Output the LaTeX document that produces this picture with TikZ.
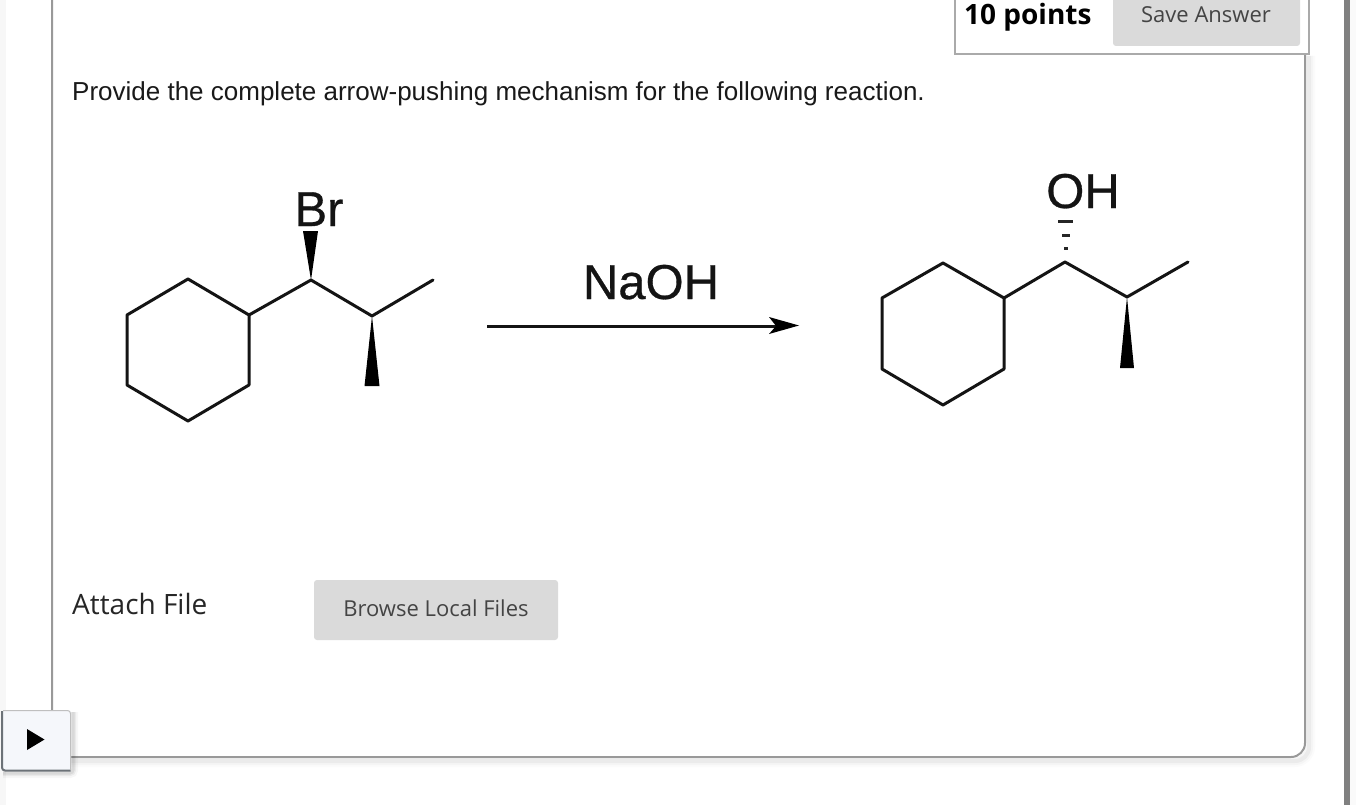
\documentclass[tikz,border=0pt]{standalone}
\usepackage{fontspec}
\setmainfont{Liberation Sans}
\newfontfamily\uifont{Open Sans}
\newfontfamily\chemfont[FakeBold=0.6]{Liberation Sans}
\definecolor{panelline}{HTML}{999999}
\definecolor{boxline}{HTML}{AAAAAA}
\definecolor{btn}{HTML}{DADADA}
\definecolor{btntext}{HTML}{444444}
\definecolor{playfill}{HTML}{F5F7FB}
\definecolor{playline}{HTML}{6C7278}
\tikzset{
  bond/.style={line width=3pt,line cap=round,line join=round,black!92},
  wedge/.style={fill=black,draw=none},
  hashbar/.style={line width=3pt,black!85},
  button/.style={fill=btn,rounded corners=3pt,draw=none},
  uitext/.style={font=\uifont\fontsize{22}{26}\selectfont,text=btntext,inner sep=0pt},
  chem/.style={inner sep=0pt,text=black!92,font=\chemfont\fontsize{49}{52}\selectfont}
}
\begin{document}
\begin{tikzpicture}[x=1pt,y=-1pt]
\useasboundingbox (0,0) rectangle (1356,805);
\fill[white] (0,0) rectangle (1356,805);
% page edges
\fill[black!3] (0,0) rectangle (6,805);
\fill[black!2] (1350,0) rectangle (1356,805);
\fill[black!50] (1344,0) rectangle (1350,805);
% panel soft shadow
\foreach \w/\o in {12/0.015,8/0.025,4/0.04}{
  \draw[black,opacity=\o,line width=\w pt,rounded corners=14pt] (54,761) -- (1309,761) -- (1309,56);
}
% panel
\coordinate (pTL) at (52,-5);
\coordinate (pBR) at (1305,757);
\draw[panelline,line width=2pt,rounded corners=14pt,fill=white] (pTL) -- (52,757) -- (pBR) -- (1305,-5);
% points box
\draw[boxline,line width=2pt,fill=white] (955,-5) -- (955,54) -- (1309,54) -- (1309,-5);
\node[inner sep=0pt,anchor=base west,font=\uifont\bfseries\fontsize{28}{32}\selectfont,text=black] (pts) at (964,25) {10 points};
\fill[button] (1113,-6) rectangle (1300,46);
\node[uitext,anchor=base] (save) at (1206,23) {Save Answer};
% question
\node[inner sep=0pt,anchor=base west,font=\fontsize{26}{30}\selectfont,text=black!90] (q) at (72,101) {Provide the complete arrow-pushing mechanism for the following reaction.};
% left molecule
\coordinate (a1) at (188,279);
\coordinate (a2) at (249,315);
\coordinate (a3) at (249,385);
\coordinate (a4) at (188,421);
\coordinate (a5) at (127,385);
\coordinate (a6) at (127,315);
\coordinate (a7) at (311,280);
\coordinate (a8) at (372,316);
\coordinate (a9) at (433,280);
\draw[bond] (a1) -- (a2) -- (a3) -- (a4) -- (a5) -- (a6) -- cycle;
\draw[bond] (a2) -- (a7) -- (a8) -- (a9);
\fill[wedge] (a7) -- (303,231) -- (318,231) -- cycle;
\fill[wedge] (a8) -- (364.5,386) -- (379.5,386) -- cycle;
\node[chem,anchor=base] (br) at (319,226) {Br};
% arrow
\node[chem,anchor=base] (naoh) at (651,299) {NaOH};
\coordinate (rs) at (487,326);
\coordinate (re) at (782,326);
\draw[line width=3pt,black!92] (rs) -- (re);
\fill[black] (799,325.5) -- (769,317) -- (776,326) -- (769,334) -- cycle;
% right molecule
\coordinate (b1) at (943,263);
\coordinate (b2) at (1004,298);
\coordinate (b3) at (1004,369);
\coordinate (b4) at (943,405);
\coordinate (b5) at (882,369);
\coordinate (b6) at (882,298);
\coordinate (b7) at (1065,262);
\coordinate (b8) at (1127,297);
\coordinate (b9) at (1188,262);
\draw[bond] (b1) -- (b2) -- (b3) -- (b4) -- (b5) -- (b6) -- cycle;
\draw[bond] (b2) -- (b7) -- (b8) -- (b9);
\fill[wedge] (b8) -- (1120,368) -- (1134,368) -- cycle;
\draw[hashbar] (1058,221) -- (1073,221);
\draw[hashbar] (1062,235) -- (1070,235);
\draw[hashbar] (1064,248.5) -- (1068,248.5);
\node[chem,anchor=base] (oh) at (1083,208) {OH};
% attach
\node[inner sep=0pt,anchor=base west,font=\uifont\fontsize{28}{32}\selectfont,text=black!85] (att) at (72,614) {Attach File};
\fill[button] (314,580) rectangle (558,640);
\node[uitext,anchor=base] (browse) at (436,616) {Browse Local Files};
% play button
\foreach \w/\o in {10/0.03,6/0.05,3/0.07}{
  \draw[black,opacity=\o,line width=\w pt,rounded corners=3pt] (3,773) -- (73,773) -- (73,712);
}
\fill[playfill,rounded corners=3pt] (1,710) rectangle (71,771);
\draw[playline,line width=2pt,rounded corners=3pt] (2,711) -- (2,770.5) -- (70.5,770.5);
\draw[black!25,line width=1pt,rounded corners=3pt] (3,710.5) -- (70.5,710.5) -- (70.5,770);
\fill[black] (27,729) -- (44.5,739.5) -- (27,750) -- cycle;
\end{tikzpicture}
\end{document}
